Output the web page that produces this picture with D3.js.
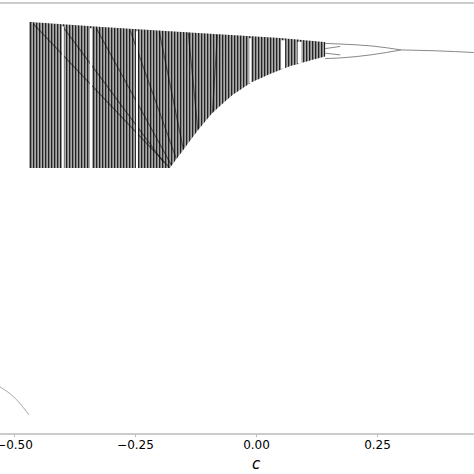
<!DOCTYPE html>
<html><head><meta charset="utf-8">
<script src="https://cdn.jsdelivr.net/npm/d3@7"></script>
<style>body{margin:0;background:#fff}svg{display:block}</style></head>
<body><svg id="c" width="474" height="474"></svg>
<script>
const xTicks=[-0.5,-0.25,0,0.25];
// chaotic band edges [c, state]
const topEdge=[[-0.469,0.899],[-0.32,0.876],[-0.12,0.848],[0.05,0.825],[0.143,0.806]];
const bottomEdge=[[-0.469,0.226],[-0.178,0.226],[-0.15,0.31],[-0.12,0.40],[-0.09,0.48],[-0.05,0.56],[-0.01,0.62],[0.03,0.66],[0.07,0.695],[0.11,0.72],[0.143,0.74]];
// period-doubling branches
const branchA=[[0.143,0.80],[0.174,0.797],[0.24,0.788],[0.30,0.770]];
const branchB=[[0.143,0.73],[0.174,0.733],[0.24,0.748],[0.30,0.770]];
const branch4a=[[0.143,0.776],[0.174,0.786]];
const branch4b=[[0.143,0.755],[0.174,0.747]];
const fixedLine=[[0.30,0.770],[0.37,0.766],[0.45,0.758]];
const lowerCurve=[[-0.529,-0.783],[-0.50,-0.83],[-0.469,-0.912]];
// periodic windows (white gaps)
const windows=[-0.399,-0.341,-0.246,-0.012,0.056,0.090];
// dark fan lines [c0,s0,c1,s1]
const fan=[[-0.46,0.89,-0.178,0.226],[-0.40,0.88,-0.19,0.25],[-0.33,0.87,-0.175,0.24],[-0.26,0.86,-0.165,0.27],[-0.20,0.855,-0.15,0.31],[-0.14,0.85,-0.12,0.40],[-0.08,0.84,-0.09,0.48]];

const svg=d3.select("#c");
const x=d3.scaleLinear().domain([-0.25,0.25]).range([135,377]);
const y=d3.scaleLinear().domain([-1,1]).range([434,0]);
svg.append("line").attr("x1",0).attr("x2",474).attr("y1",3).attr("y2",3).attr("stroke","#ccc").attr("stroke-width",2);
const defs=svg.append("defs");
const pat=defs.append("pattern").attr("id","st").attr("patternUnits","userSpaceOnUse").attr("width",3).attr("height",4);
pat.append("rect").attr("width",3).attr("height",4).attr("fill","#aaa");
pat.append("rect").attr("width",1.3).attr("height",4).attr("fill","#222");
const ln=d3.line().x(d=>x(d[0])).y(d=>y(d[1])).curve(d3.curveMonotoneX);
const bi=d3.bisector(d=>d[0]).left;
function interp(arr,c){const i=Math.max(1,Math.min(arr.length-1,bi(arr,c)));const a=arr[i-1],b=arr[i];return a[1]+(b[1]-a[1])*(c-a[0])/(b[0]-a[0]);}
const area=d3.area().x(d=>x(d[0])).y0(d=>y(interp(bottomEdge,d[0]))).y1(d=>y(d[1]));
const cs=d3.range(-0.469,0.1431,0.002).map(c=>[c,interp(topEdge,c)]);
svg.append("path").attr("d",area(cs)).attr("fill","url(#st)");
svg.selectAll(".fan").data(fan).join("line").attr("x1",d=>x(d[0])).attr("y1",d=>y(d[1])).attr("x2",d=>x(d[2])).attr("y2",d=>y(d[3])).attr("stroke","#000").attr("stroke-width",1.2).attr("opacity",0.5);
svg.selectAll(".win").data(windows).join("line").attr("x1",d=>x(d)).attr("x2",d=>x(d)).attr("y1",d=>y(interp(topEdge,d))+2).attr("y2",d=>y(interp(bottomEdge,d))).attr("stroke","#fff").attr("stroke-width",d=>d>0.05?4:2);
[branchA,branchB,branch4a,branch4b,fixedLine].forEach(a=>svg.append("path").attr("d",ln(a)).attr("fill","none").attr("stroke","#888").attr("stroke-width",1));
svg.append("path").attr("d",ln(lowerCurve)).attr("fill","none").attr("stroke","#aaa").attr("stroke-width",1);
const ax=svg.append("g").attr("transform","translate(0,434)").call(d3.axisBottom(x).tickValues(xTicks).tickFormat(d3.format(".2f")).tickSize(3));
ax.select(".domain").attr("stroke","#bbb").attr("stroke-width",1.5).attr("d","M0,0H474");
ax.selectAll(".tick line").attr("stroke","#bbb");
ax.selectAll("text").attr("font-family","DejaVu Sans").attr("font-size",12).attr("fill","#000").text(d=>d3.format(".2f")(d).replace("-","\u2212"));
svg.append("text").attr("x",256).attr("y",469).attr("text-anchor","middle").attr("font-family","DejaVu Sans").attr("font-style","italic").attr("font-size",15).text("c");
</script></body></html>
